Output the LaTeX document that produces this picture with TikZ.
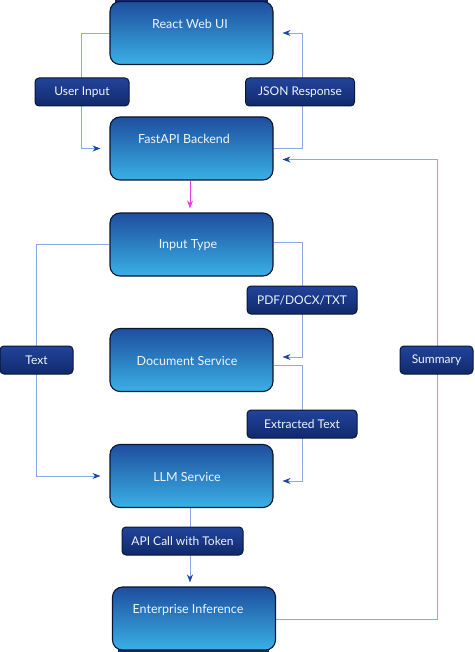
\documentclass[tikz,border=0pt]{standalone}
\usepackage{fontspec}
\setmainfont{Lato}
\usetikzlibrary{arrows.meta,backgrounds,calc}
\definecolor{boxtop}{HTML}{1E4E9E}
\definecolor{boxbot}{HTML}{3AB0E6}
\definecolor{lbltop}{HTML}{21449A}
\definecolor{lblbot}{HTML}{10296C}
\definecolor{edge}{HTML}{0B1630}
\definecolor{linec}{HTML}{8CA8E8}
\definecolor{tipc}{HTML}{1D43A8}
\definecolor{magc}{HTML}{E23BE0}
\definecolor{txtc}{HTML}{EEF4FF}
\tikzset{
  procbox/.style={draw=edge, line width=1.1pt, rounded corners=10pt,
    top color=boxtop, bottom color=boxbot, minimum width=163pt, minimum height=63pt, inner sep=0pt},
  boxtext/.style={text=txtc, font=\fontsize{12.5}{14}\selectfont},
  lblbox/.style={draw=edge, line width=1pt, rounded corners=4pt,
    top color=lbltop, bottom color=lblbot, minimum height=28pt, inner sep=0pt,
    text=txtc, font=\fontsize{12}{14}\selectfont},
  conn/.style={draw=linec, line width=0.8pt, -{Stealth[length=8pt,width=6pt,color=tipc]}, shorten >=9pt},
}
\begin{document}
\begin{tikzpicture}[x=1pt,y=-1pt]
\useasboundingbox (0,0) rectangle (474,652);
\fill[lblbot] (115,-5) rectangle (268,3);
\fill[lblbot] (118,648) rectangle (269,660);
% boxes
\node[procbox] (react) at (191.5,33) {};
\node[boxtext] at (190,24) {React Web UI};
\node[procbox] (fastapi) at (191.5,148.5) {};
\node[boxtext] at (184,139) {FastAPI Backend};
\node[procbox] (input) at (191.5,244.5) {};
\node[boxtext] at (188,245) {Input Type};
\node[procbox] (doc) at (191.5,360) {};
\node[boxtext] at (187,361) {Document Service};
\node[procbox] (llm) at (191.5,476) {};
\node[boxtext] at (187,477) {LLM Service};
\node[procbox] (ent) at (194,618.5) {};
\node[boxtext] at (188,610) {Enterprise Inference};
% labels
\node[lblbox, minimum width=94pt] (uin) at (82,92) {User Input};
\node[lblbox, minimum width=109pt] (json) at (300,92) {JSON Response};
\node[lblbox, minimum width=110pt] (pdf) at (302,300) {PDF/DOCX/TXT};
\node[lblbox, minimum width=73pt] (txt) at (36.5,360) {Text};
\node[lblbox, minimum width=73pt] (sum) at (436.5,360) {Summary};
\node[lblbox, minimum width=110pt] (ext) at (302,424) {Extracted Text};
\node[lblbox, minimum width=121pt] (api) at (182.5,541) {API Call with Token};
\begin{scope}[on background layer]
\draw[conn] (react.west) -- (81,33) -- (81,148.5) -- (fastapi.west);
\draw[conn] (fastapi.east) -- (302,148.5) -- (302,33) -- (react.east);
\draw[draw=magc, line width=0.8pt, -{Stealth[length=8pt,width=6pt,color=magc]}, shorten >=4pt] (fastapi.south -| 190,0) -- (input.north -| 190,0);
\draw[conn] (input.west) -- (36,244.5) -- (36,476) -- (llm.west);
\draw[conn] ([yshift=2.5pt]input.east) -- (302,242) -- (302,357) -- ([yshift=3pt]doc.east);
\draw[conn] ([yshift=-5pt]doc.east) -- (302,365) -- (302,481) -- ([yshift=-5pt]llm.east);
\draw[conn, shorten >=4pt] (llm.south -| 190,0) -- (ent.north -| 190,0);
\draw[conn] ([yshift=-1pt]ent.east) -- (437,619.5) -- (437,159.5) -- ([yshift=-11pt]fastapi.east);
\end{scope}
\end{tikzpicture}
\end{document}
